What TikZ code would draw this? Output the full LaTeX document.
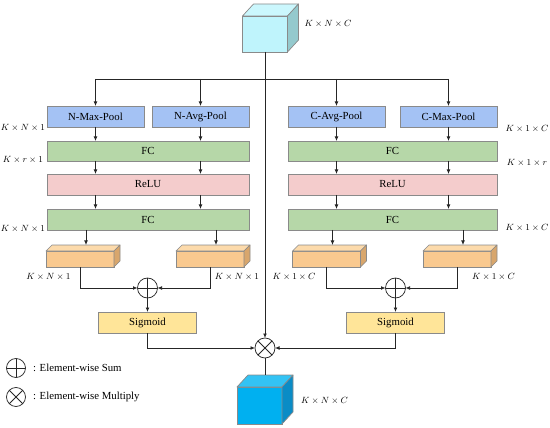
\documentclass[tikz,border=0pt]{standalone}
\usepackage{fontspec}
\setmainfont{Liberation Serif}
\usetikzlibrary{arrows.meta,calc}
\definecolor{poolc}{HTML}{A4C2F4}
\definecolor{fcc}{HTML}{B6D7A8}
\definecolor{reluc}{HTML}{F4CCCC}
\definecolor{sigc}{HTML}{FFE599}
\definecolor{edge}{HTML}{8A8A8A}
\definecolor{lnc}{HTML}{262626}
\definecolor{cyF}{HTML}{BFF4FC}
\definecolor{cyT}{HTML}{CBF7FD}
\definecolor{cyS}{HTML}{94C9CD}
\definecolor{blF}{HTML}{00B0F0}
\definecolor{blT}{HTML}{33C3F4}
\definecolor{blS}{HTML}{0A8CC6}
\definecolor{orF}{HTML}{F9C98F}
\definecolor{orT}{HTML}{FCDAAB}
\definecolor{orS}{HTML}{D8A66C}
\tikzset{
  blk/.style={draw=edge, line width=0.7pt, inner sep=0pt, outer sep=0pt, font=\fontsize{10.8}{12}\selectfont},
  pool/.style={blk, fill=poolc, minimum width=97pt, minimum height=21pt},
  fcbox/.style={blk, fill=fcc, minimum height=20pt},
  relubox/.style={blk, fill=reluc, minimum height=21pt},
  sigbox/.style={blk, fill=sigc, minimum width=98pt, minimum height=21pt},
  dimlab/.style={font=\fontsize{8.7}{10}\selectfont, inner sep=0pt},
  legtext/.style={font=\fontsize{10.8}{12}\selectfont, inner sep=0pt, anchor=west},
  conn/.style={draw=lnc, line width=0.75pt},
  arr/.style={conn, -{Latex[length=4.5pt,width=3.8pt]}},
  opc/.style={circle, draw=lnc, line width=0.75pt, minimum size=20pt, inner sep=0pt, outer sep=0pt},
  plusop/.style={opc, path picture={\draw[lnc, line width=0.75pt]
     (path picture bounding box.north)--(path picture bounding box.south)
     (path picture bounding box.west)--(path picture bounding box.east);}},
  mulop/.style={opc, path picture={\draw[lnc, line width=0.75pt]
     (path picture bounding box.north west)--(path picture bounding box.south east)
     (path picture bounding box.north east)--(path picture bounding box.south west);}},
}
% name, position, width, height, dx, dy, colour prefix
\newcommand\mycuboid[7]{%
  \node[draw=edge, fill=#7F, line width=0.7pt, minimum width=#3pt, minimum height=#4pt,
        inner sep=0pt, outer sep=0pt] (#1) at (#2) {};
  \filldraw[draw=edge, fill=#7T, line width=0.7pt, line join=round]
     (#1.north west) -- ($(#1.north west)+(#5,-#6)$) -- ($(#1.north east)+(#5,-#6)$)
     -- (#1.north east) -- cycle;
  \filldraw[draw=edge, fill=#7S, line width=0.7pt, line join=round]
     (#1.north east) -- ($(#1.north east)+(#5,-#6)$) -- ($(#1.south east)+(#5,-#6)$)
     -- (#1.south east) -- cycle;
}
\begin{document}
\begin{tikzpicture}[x=1pt,y=-1pt]
\useasboundingbox (0,0) rectangle (550,428);

% input / output cubes
\mycuboid{cubeT}{265,34}{45}{36}{11}{12}{cy}
\mycuboid{cubeB}{259.5,405.5}{45}{37}{11}{12}{bl}
\coordinate (cubeBt) at ($(cubeB.north)+(5.5,-12)$);
\node[dimlab] (dTop) at (328,24) {$K\times N\times C$};
\node[dimlab] (dBot) at (324.5,401) {$K\times N\times C$};

% pooling boxes
\node[pool] (nmax) at (95.5,116.5) {N-Max-Pool};
\node[pool] (navg) at (200.5,116.5) {N-Avg-Pool};
\node[pool] (cavg) at (336.5,116.5) {C-Avg-Pool};
\node[pool] (cmax) at (448.5,116.5) {C-Max-Pool};

% FC / ReLU / FC
\node[fcbox, minimum width=202pt] (fc1l) at (148,151) {FC};
\node[fcbox, minimum width=209pt] (fc1r) at (392.5,151) {FC};
\node[relubox, minimum width=202pt] (relul) at (148,184.5) {ReLU};
\node[relubox, minimum width=209pt] (relur) at (392.5,184.5) {ReLU};
\node[fcbox, minimum width=202pt, minimum height=21pt] (fc2l) at (148,219.5) {FC};
\node[fcbox, minimum width=209pt, minimum height=21pt] (fc2r) at (392.5,219.5) {FC};

% orange feature cuboids
\mycuboid{oL1}{80,259}{68}{16}{6}{6}{or}
\mycuboid{oL2}{210,259}{68}{16}{6}{6}{or}
\mycuboid{oR1}{326.5,259}{68}{16}{6}{6}{or}
\mycuboid{oR2}{457,259}{68}{16}{6}{6}{or}
\coordinate (oL1t) at ($(oL1.north)+(6,-6)$);
\coordinate (oL2t) at ($(oL2.north)+(6,-6)$);
\coordinate (oR1t) at ($(oR1.north)+(6,-6)$);
\coordinate (oR2t) at ($(oR2.north)+(6,-6)$);

% operators and sigmoid
\node[plusop] (sumL) at (147.5,288) {};
\node[plusop] (sumR) at (395.5,288) {};
\node[sigbox] (sigL) at (147.5,322.5) {Sigmoid};
\node[sigbox] (sigR) at (395.5,322.5) {Sigmoid};
\node[mulop] (mul) at (265,348) {};

% dimension labels
\node[dimlab] (dl1) at (23,128) {$K\times N\times 1$};
\node[dimlab] (dl2) at (23,160) {$K\times r\times 1$};
\node[dimlab] (dl3) at (23,229) {$K\times N\times 1$};
\node[dimlab] (dr1) at (527,129) {$K\times 1\times C$};
\node[dimlab] (dr2) at (527,163) {$K\times 1\times r$};
\node[dimlab] (dr3) at (527,228) {$K\times 1\times C$};
\node[dimlab] (dc1) at (48.5,277) {$K\times N\times 1$};
\node[dimlab] (dc2) at (237,277) {$K\times N\times 1$};
\node[dimlab] (dc3) at (294,277) {$K\times 1\times C$};
\node[dimlab] (dc4) at (493.5,277) {$K\times 1\times C$};

% branching from the input
\coordinate (br) at (265,79);
\draw[arr] (cubeT.south) -- (mul.north);
\draw[conn] (nmax.north |- br) -- (cmax.north |- br);
\foreach \n in {nmax,navg,cavg,cmax}{
  \draw[arr] (\n.north |- br) -- (\n.north);
}
% pool -> FC -> ReLU -> FC
\foreach \n/\a/\b/\c in {nmax/fc1l/relul/fc2l, navg/fc1l/relul/fc2l, cavg/fc1r/relur/fc2r, cmax/fc1r/relur/fc2r}{
  \draw[arr] (\n.south) -- (\n.south |- \a.north);
  \draw[arr] (\n.south |- \a.south) -- (\n.south |- \b.north);
  \draw[arr] (\n.south |- \b.south) -- (\n.south |- \c.north);
}
% FC -> cuboids
\draw[arr] (oL1t |- fc2l.south) -- (oL1t);
\draw[arr] (oL2t |- fc2l.south) -- (oL2t);
\draw[arr] (oR1t |- fc2r.south) -- (oR1t);
\draw[arr] (oR2t |- fc2r.south) -- (oR2t);
% cuboids -> sums
\draw[arr] (oL1.south) |- (sumL.west);
\draw[arr] (oL2.south) |- (sumL.east);
\draw[arr] (oR1.south) |- (sumR.west);
\draw[arr] (oR2.south) |- (sumR.east);
% sums -> sigmoid -> multiply
\draw[arr] (sumL.south) -- (sigL.north);
\draw[arr] (sumR.south) -- (sigR.north);
\draw[arr] (sigL.south) |- (mul.west);
\draw[arr] (sigR.south) |- (mul.east);
\draw[conn] (mul.south) -- (cubeBt);

% legend
\node[plusop, minimum size=19pt] (lgp) at (16,368) {};
\node[legtext] (lgpt) at (33,368) {:\hspace{3.5pt}Element-wise Sum};
\node[mulop, minimum size=19pt] (lgm) at (16,397) {};
\node[legtext] (lgmt) at (33,397) {:\hspace{3.5pt}Element-wise Multiply};
\end{tikzpicture}
\end{document}
